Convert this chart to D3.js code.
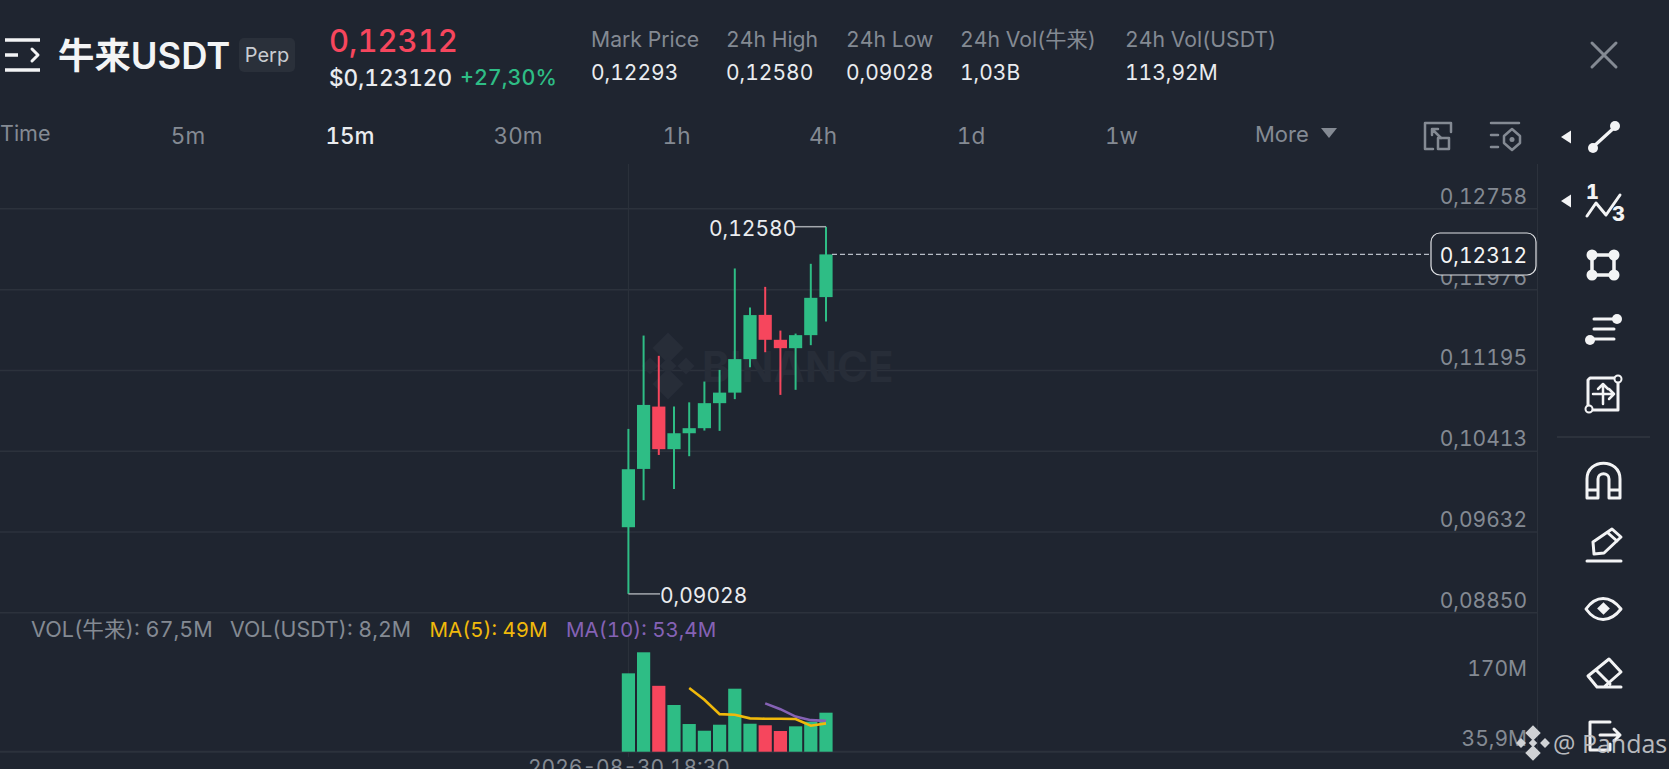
<!DOCTYPE html>
<html><head><meta charset="utf-8">
<script src="https://cdn.jsdelivr.net/npm/d3@7/dist/d3.min.js"></script>
<style>
html,body{margin:0;padding:0;background:#1f2530;overflow:hidden}
svg{display:block;font-family:Inter,"Noto Sans CJK SC",sans-serif;font-variant-numeric:tabular-nums}
</style></head><body><svg id="c" width="1669" height="769"></svg>
<script>
const times=["18:30","18:45","19:00","19:15","19:30","19:45","20:00","20:15","20:30","20:45","21:00","21:15","21:30","21:45"];
const opens =[.09673,.10237,.10840,.10428,.10582,.10631,.10873,.10975,.11299,.11727,.11486,.11405,.11531,.11899];
const highs =[.10624,.11527,.11331,.10840,.10881,.11082,.11195,.12176,.11798,.11998,.11575,.11546,.12221,.12580];
const lows  =[.09028,.09934,.10372,.10043,.10360,.10608,.10605,.10912,.11221,.11366,.10953,.11002,.11434,.11663];
const closes=[.10234,.10856,.10428,.10582,.10631,.10873,.10975,.11299,.11725,.11486,.11405,.11531,.11892,.12312];
const volumes=[135.6,172,114,80.8,47.9,36.3,46.7,109,48.4,45.7,35.8,43.9,51.9,67.5];
const ma5=[null,null,null,null,110.1,90,65,64,57.7,57,57,56.6,45,49];
const ma10=[null,null,null,null,null,null,null,null,null,83.6,73.6,60.8,54.6,53.4];
const priceTicks=[.12758,.11976,.11195,.10413,.09632,.0885];
const priceTickLabels=["0,12758","0,11976","0,11195","0,10413","0,09632","0,08850"];
const timeframes=["5m","15m","30m","1h","4h","1d","1w"];
const statHeads=["Mark Price","24h High","24h Low","24h Vol(牛来)","24h Vol(USDT)"];
const statVals=["0,12293","0,12580","0,09028","1,03B","113,92M"];

const BG="#1f2530",GRID="#2c323c",GREEN="#2ebd85",RED="#f6465d",MUTED="#848a93",LIGHT="#eaecef";
const svg=d3.select("#c");
svg.append("rect").attr("width",1669).attr("height",769).attr("fill",BG);
const T=(x,y,s,size,fill,o={})=>svg.append("text").attr("x",x).attr("y",y).text(s)
  .attr("font-size",size).attr("fill",fill).attr("dominant-baseline","central")
  .attr("text-anchor",o.a||"start").attr("font-weight",o.w||400).attr("opacity",o.op||1);

const x=d3.scalePoint().domain(times).range([628.4,826]);
const y=d3.scaleLinear().domain([.0885,.12758]).range([612.3,208.3]);
const yV=d3.scaleLinear().domain([0,172]).range([751.7,652.3]);
const up=i=>closes[i]>=opens[i];

// grid
const grid=svg.append("g").call(d3.axisRight(y).tickValues(priceTicks).tickSize(1537).tickFormat((d,i)=>priceTickLabels[i]));
grid.attr("font-family",null).attr("font-size",null);
grid.select(".domain").remove();
grid.selectAll("line").attr("stroke",GRID).attr("stroke-width",1.5);
grid.selectAll("text").attr("x",1527).attr("dy",0).attr("y",-12.5).attr("text-anchor","end").attr("dominant-baseline","central")
  .attr("font-size",21).attr("fill",MUTED);
svg.append("line").attr("x1",1537.5).attr("x2",1537.5).attr("y1",164).attr("y2",757).attr("stroke",GRID).attr("stroke-width",1);
svg.append("line").attr("x1",x(times[0])).attr("x2",x(times[0])).attr("y1",164).attr("y2",757).attr("stroke",GRID).attr("stroke-width",1);
svg.append("line").attr("x1",0).attr("x2",1537).attr("y1",yV(0)).attr("y2",yV(0)).attr("stroke",GRID).attr("stroke-width",2);

// watermark
const wm=svg.append("g").attr("transform","translate(668,366)").attr("fill","#272d38");
[[0,-18,11],[-18,0,6],[18,0,6],[0,18,11],[0,0,6]].forEach(([a,b,r])=>{
  wm.append("rect").attr("x",a-r).attr("y",b-r).attr("width",2*r).attr("height",2*r).attr("transform",`rotate(45 ${a} ${b})`);
});
T(702,366,"BINANCE",42,"#272d38",{w:700});

// candles
const g=svg.append("g");
g.selectAll(".w").data(times).join("line").attr("x1",d=>x(d)).attr("x2",d=>x(d))
 .attr("y1",(d,i)=>y(highs[i])).attr("y2",(d,i)=>y(lows[i]))
 .attr("stroke",(d,i)=>up(i)?GREEN:RED).attr("stroke-width",2);
g.selectAll(".b").data(times).join("rect").attr("x",d=>x(d)-6.6).attr("width",13.2)
 .attr("y",(d,i)=>y(Math.max(opens[i],closes[i])))
 .attr("height",(d,i)=>Math.abs(y(opens[i])-y(closes[i])))
 .attr("fill",(d,i)=>up(i)?GREEN:RED);

// volume
g.selectAll(".v").data(times).join("rect").attr("x",d=>x(d)-6.6).attr("width",13.2)
 .attr("y",(d,i)=>yV(volumes[i])).attr("height",(d,i)=>yV(0)-yV(volumes[i]))
 .attr("fill",(d,i)=>up(i)?GREEN:RED);
const ln=d3.line().defined(d=>d[1]!=null).x(d=>x(d[0])).y(d=>yV(d[1]));
svg.append("path").attr("d",ln(times.map((t,i)=>[t,ma10[i]]))).attr("fill","none").attr("stroke","#8562b5").attr("stroke-width",2.6);
svg.append("path").attr("d",ln(times.map((t,i)=>[t,ma5[i]]))).attr("fill","none").attr("stroke","#f0b90b").attr("stroke-width",2.6);

// x axis
const xa=svg.append("g").attr("transform","translate(0,757)").call(d3.axisBottom(x).tickValues([times[0]]).tickSize(0).tickFormat(d=>"2026-08-30 "+d));
xa.attr("font-family",null).attr("font-size",null);
xa.select(".domain").remove();
xa.selectAll("text").attr("y",0).attr("dy",10).attr("dominant-baseline","central").attr("font-size",21).attr("fill",MUTED);

// hi / lo labels
const c="#a4a8ae";
svg.append("line").attr("x1",794).attr("x2",x(times[13])).attr("y1",y(.1258)).attr("y2",y(.1258)).attr("stroke",c).attr("stroke-width",1.5);
T(709,228,"0,12580",21,LIGHT);
svg.append("line").attr("x1",x(times[0])).attr("x2",660).attr("y1",y(.09028)).attr("y2",y(.09028)).attr("stroke",c).attr("stroke-width",1.5);
T(660,595,"0,09028",21,LIGHT);

// last price
svg.append("line").attr("x1",832).attr("x2",1431).attr("y1",y(.12312)).attr("y2",y(.12312)).attr("stroke","#b7bdc6").attr("stroke-width",1.3).attr("stroke-dasharray","5 3");
svg.append("rect").attr("x",1431).attr("y",233).attr("width",105).attr("height",42).attr("rx",9).attr("fill",BG).attr("stroke","#e0e2e5").attr("stroke-width",1.2);
T(1527,255,"0,12312",21,"#f5f5f5",{a:"end"});

// volume legend & axis
T(31,629,"VOL(牛来): 67,5M",21.6,MUTED);
T(230,629,"VOL(USDT): 8,2M",21.3,MUTED);
T(429.5,629,"MA(5): 49M",20.5,"#f0b90b");
T(566,629,"MA(10): 53,4M",20.5,"#8562b5");
T(1527,668,"170M",21,MUTED,{a:"end"});
T(1527,738,"35,9M",21,MUTED,{a:"end"});

// header
const I=(d,o={})=>svg.append("path").attr("d",d).attr("fill",o.f||"none").attr("stroke",o.s||"#f3f4f5").attr("stroke-width",o.w||3.2).attr("stroke-linecap",o.c||"round").attr("stroke-linejoin","round").attr("transform",o.t||null);
I("M5 40H40M5 55H18M5 70H40",{w:3.6,c:"butt"});
I("M32 49L38 55L32 61",{w:3});
T(58,56,"牛来USDT",36.4,"#f3f4f5",{w:600});
svg.append("rect").attr("x",239).attr("y",38).attr("width",56).attr("height",34).attr("rx",5).attr("fill","#2a303a");
T(267,55,"Perp",20,"#c9ccd1",{a:"middle"});
T(329,40,"0,12312",31,RED,{w:500});
T(329,77,"$0,123120",22.6,LIGHT,{w:500});
T(460,77,"+27,30%",21.5,GREEN,{w:500});
const sx=[591,726,846,960,1125];
statHeads.forEach((s,i)=>{T(sx[i],38.5,s,21.2,MUTED);T(sx[i],72,statVals[i],21,LIGHT);});
I("M1592 43L1616 67M1616 43L1592 67",{s:"#848a93",w:3});

// timeframe row
T(0,133,"Time",21.5,MUTED);
const tfx=[188,350,518,676.5,823,971,1121.5];
timeframes.forEach((s,i)=>T(tfx[i],135,s,22.5,s=="15m"?LIGHT:MUTED,{a:"middle",w:s=="15m"?500:400}));
T(1255,134,"More",22,MUTED);
svg.append("path").attr("d",d3.line()([[1321,128],[1337,128],[1329,138]])).attr("fill",MUTED);
I("M1445 123H1425V149H1433M1451 132V123H1445M1432 129L1441 138M1432 135V129H1438",{s:MUTED,w:2.5});
I("M1438 149H1449V138H1438Z",{s:MUTED,w:2.5});
I("M1491 123H1519M1491 135H1498M1491 147H1498",{s:MUTED,w:2.5});
I("M1512 129L1520 136V143L1512 150L1504 143V136Z",{s:MUTED,w:2.5});
svg.append("circle").attr("cx",1512).attr("cy",139.5).attr("r",2.5).attr("fill",MUTED);

// toolbar
const W="#f3f4f5";
[137,201].forEach(yy=>svg.append("path").attr("d",d3.line()([[1571,yy-6.5],[1571,yy+6.5],[1561,yy]])).attr("fill",W));
const dot=(cx,cy,r,f=W)=>svg.append("circle").attr("cx",cx).attr("cy",cy).attr("r",r).attr("fill",f).attr("stroke",W).attr("stroke-width",f==W?0:2);
I("M1593 147L1615 127"); dot(1593,148,5); dot(1615,126,5);
I("M1587 216L1596 203L1606 215L1620 195",{w:3});
T(1586,192,"1",20,W,{w:800}); T(1612,214,"3",20,W,{w:800});
I("M1592 255H1614V275H1592Z",{w:3.5}); [[1592,255],[1614,255],[1592,275],[1614,275]].forEach(p=>dot(p[0],p[1],5.5));
I("M1594 319H1614M1594 329H1614M1594 339H1614",{w:3}); dot(1617,319,5); dot(1590,340,5);
I("M1590 378H1618V410H1588V380Z",{w:3}); dot(1618,379,3.5,BG); dot(1589,409,3.5,BG);
I("M1603 384V404M1593 394H1614M1598 389L1603 384L1608 389M1609 389L1614 394L1609 399",{w:2.5});
svg.append("line").attr("x1",1557).attr("x2",1650).attr("y1",437).attr("y2",437).attr("stroke",GRID).attr("stroke-width",2);
I("M1587 498V479C1587 458 1620 458 1620 479V498H1609V479C1609 472 1598 472 1598 479V498ZM1587 490H1598M1609 490H1620",{w:3});
I("M1587 561H1621",{w:3}); I("M1594 554L1593 542L1612 529L1621 537L1604 553ZM1608 533L1617 541",{w:3});
I("M1586 609C1596 595 1610 595 1621 609C1610 623 1596 623 1586 609Z",{w:3});
svg.append("rect").attr("x",1599).attr("y",604).attr("width",9).attr("height",9).attr("transform","rotate(45 1603.5 608.5)").attr("fill",W);
I("M1588 676L1609 659L1621 672L1604 687H1597ZM1596 670L1610 684M1603 687H1621",{w:3});
I("M1590 750V722H1610M1590 750H1610V744M1600 735H1620L1614 729M1620 735L1614 741",{w:3});

// bottom-right watermark
const wl=svg.append("g").attr("transform","translate(1533,743)").attr("fill","#d0d2d5");
[[0,-10,5.5],[-12,0,3.5],[12,0,3.5],[0,10,5.5],[0,0,3]].forEach(([a,b,r])=>{
  wl.append("rect").attr("x",a-r).attr("y",b-r).attr("width",2*r).attr("height",2*r).attr("transform",`rotate(45 ${a} ${b})`);
});
T(1553,743,"@ Pandas",25,"#c9cbce",{op:.9}).attr("font-family","Open Sans");
</script></body></html>
